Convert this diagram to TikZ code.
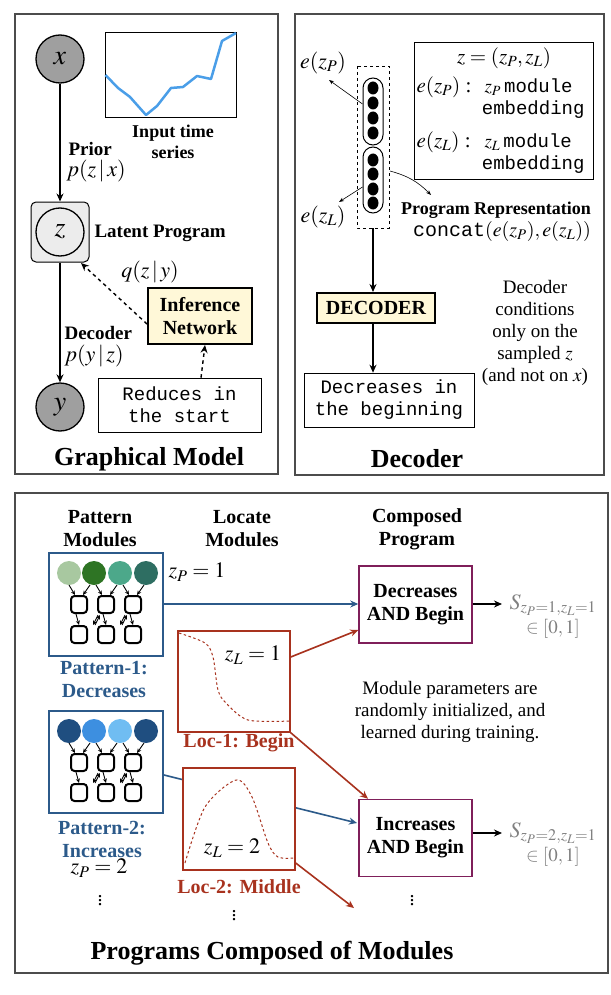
\documentclass[tikz,border=0pt]{standalone}
\usepackage{mathptmx}
\usepackage{fontspec}
\setmainfont{Liberation Serif}
\setmonofont{Liberation Mono}
\usetikzlibrary{arrows.meta,positioning}
\definecolor{pblue}{HTML}{2C5A8A}
\definecolor{lred}{HTML}{A8321E}
\definecolor{cpur}{HTML}{7F1F5A}
\definecolor{yel}{HTML}{FFF8D8}
\definecolor{tsblue}{HTML}{4A9EE8}
\definecolor{sgray}{HTML}{808080}
\definecolor{ga}{HTML}{A8C8A0}\definecolor{gb}{HTML}{2E7424}
\definecolor{gc}{HTML}{4CA88A}\definecolor{gd}{HTML}{2E6E62}
\definecolor{ba}{HTML}{1F4E80}\definecolor{bb}{HTML}{3D8FE0}
\definecolor{bc}{HTML}{70BDF2}
\newcommand\fs[1]{\fontsize{#1}{\dimexpr #1pt*115/100\relax}\selectfont}
\newcommand\modicon[5]{%
\begin{scope}[shift={(#1)}]
 \fill[#2] (20,20) circle (12); \fill[#3] (45,20) circle (12);
 \fill[#4] (71,20) circle (12); \fill[#5] (97,20) circle (12);
 \foreach \x in {30,57,84}{
  \draw[line width=2pt,rounded corners=3.5] (\x-8,43) rectangle (\x+8,60);
  \draw[line width=2pt,rounded corners=3.5] (\x-8,73) rectangle (\x+8,90);
  \draw[-{Stealth[length=4.5pt,width=4pt]},line width=0.9pt] (\x-10,32) -- (\x-4,42);
  \draw[-{Stealth[length=4.5pt,width=4pt]},line width=0.9pt] (\x+11,32) -- (\x+4,42);
  \draw[-{Stealth[length=4.5pt,width=4pt]},line width=0.9pt] (\x-3,61) -- (\x,72);
 }
 \foreach \x in {57,84}{
  \draw[-{Stealth[length=4.5pt,width=4pt]},line width=0.9pt] (\x-8,62) -- (\x-13,72);
  \draw[-{Stealth[length=4.5pt,width=4pt]},line width=0.9pt] (\x-11,72) -- (\x-6,62);
 }
\end{scope}}
\begin{document}
\begin{tikzpicture}[x=1pt,y=-1pt,
  panel/.style={draw=black!70,line width=1.6pt},
  arr/.style={-{Stealth[length=8pt,width=7pt]},line width=1.4pt},
  darr/.style={-{Stealth[length=8pt,width=7pt]},line width=1.4pt,dash pattern=on 3.5pt off 3.5pt},
  bl/.style={font=\bfseries\fs{19}},
  ttl/.style={font=\bfseries\fs{26}},
  rv/.style={circle,draw,line width=1.3pt,minimum size=48pt,inner sep=0pt,font=\fs{28}},
  txt/.style={font=\fs{19},align=center},
  mono/.style={font=\ttfamily\fs{19},align=center},
  blu/.style={-{Stealth[length=8pt,width=7pt]},line width=1.6pt,pblue},
  red/.style={-{Stealth[length=8pt,width=7pt]},line width=1.6pt,lred},
  cbox/.style={draw=cpur,line width=1.5pt,minimum width=113pt,minimum height=77pt,align=center,font=\bfseries\fs{20}},
  lbox/.style={draw=lred,line width=1.4pt,fill=white},
  pbox/.style={draw=pblue,line width=2pt},
  vd/.style={font=\fs{20},inner sep=0pt}]
\useasboundingbox (0,0) rectangle (610,995);
% ---------------- Graphical model
\draw[panel] (15,14) rectangle (278,474);
\node[rv,fill=gray!75] (x) at (60,59) {$x$};
\draw[line width=0.8pt] (105,32) rectangle (236,117);
\draw[tsblue,line width=2.5pt,line join=round] (105.5,75)--(118,88)--(130,97)--(146,115)--(157,106)--(171,88)--(183,87)--(197,76)--(211,79)--(222,41)--(236,33);
\node[align=center,font=\bfseries\fs{18}] (its) at (173,142) {Input time\\series};
\node[anchor=west,font=\bfseries\fs{19}] (prior) at (65,149) {Prior};
\node[anchor=west,font=\fs{22}] (pzx) at (63,171) {$p(z\,|\,x)$};
\node[draw,fill=gray!15,rounded corners=5pt,line width=1pt,minimum width=58pt,minimum height=60pt] (zb) at (60,232) {};
\node[rv] (z) at (60,232) {$z$};
\node[bl,anchor=west] (lp) at (91,233) {Latent Program};
\node[font=\fs{22}] (qzy) at (150,272) {$q(z\,|\,y)$};
\node[draw,fill=yel,line width=2pt,minimum width=104pt,minimum height=56pt,align=center,font=\bfseries\fs{20}] (inf) at (200,316) {Inference\\Network};
\node[bl,anchor=west] (dec) at (61,333) {Decoder};
\node[anchor=west,font=\fs{22}] (pyz) at (61,356) {$p(y\,|\,z)$};
\node[rv,fill=gray!75] (y) at (60,407) {$y$};
\node[draw,line width=0.6pt,minimum width=163pt,minimum height=54pt,mono] (red1) at (179.5,405) {Reduces in\\the start};
\node[ttl] (gm) at (149,459) {Graphical Model};
\draw[arr] (x) -- (zb);
\draw[arr] (zb) -- (y);
\coordinate (zq) at (81,263);
\draw[darr] ([yshift=-8pt]inf.west) -- (zq);
\draw[darr] (red1.north -| 201,0) -- (inf.south -| 205,0);
% ---------------- Decoder
\draw[panel] (295,14) rectangle (604,475);
\draw[dashed,line width=0.6pt] (357,66) rectangle (389,228);
\node[draw,rounded corners=10pt,line width=1pt,minimum width=20pt,minimum height=67pt] (c1) at (373,111.5) {};
\node[draw,rounded corners=10pt,line width=1pt,minimum width=20pt,minimum height=66pt] (c2) at (373,180) {};
\foreach \yy in {88,103,118,133,160,174,189,203} \fill (373,\yy) ellipse (5.5 and 6.5);
\node[font=\fs{22}] (ezp) at (323,63) {$e(z_P)$};
\node[font=\fs{22}] (ezl) at (323,217) {$e(z_L)$};
\draw[-{Stealth[length=5pt]},line width=0.6pt] (c1.west |- 0,104) -- (329,80);
\draw[-{Stealth[length=5pt]},line width=0.6pt] (c2.west |- 0,187) -- (339,202);
\draw[-{Stealth[length=5pt]},line width=0.6pt] (390,171) to[bend left=15] (431,195);
\draw[line width=0.6pt] (414,42) rectangle (593,179);
\node[font=\fs{21}] at (504,58) {$z=(z_P,z_L)$};
\node[anchor=west,font=\fs{21}] at (413,87) {$e(z_P)$ :};
\node[anchor=west,font=\fs{19}] at (481,87) {$\mathit{z_P}$\,\texttt{module}};
\node[anchor=east,font=\ttfamily\fs{19}] at (588,110) {embedding};
\node[anchor=west,font=\fs{21}] at (413,142) {$e(z_L)$ :};
\node[anchor=west,font=\fs{19}] at (481,142) {$\mathit{z_L}$\,\texttt{module}};
\node[anchor=east,font=\ttfamily\fs{19}] at (588,165) {embedding};
\node[font=\bfseries\fs{18}] (prr) at (496,210) {Program Representation};
\node[font=\fs{20}] (cat) at (502,231) {\texttt{concat}$(e(z_P),e(z_L))$};
\node[draw,fill=yel,line width=2pt,minimum width=118pt,minimum height=30pt,font=\bfseries\fs{20}] (decb) at (376,308) {DECODER};
\node[draw,line width=0.6pt,minimum width=170pt,minimum height=54pt,mono] (dib) at (389,400) {Decreases in\\the beginning};
\coordinate (dtop) at (373,228);
\draw[arr] (dtop) -- (decb.north -| dtop);
\draw[arr] (decb.south -| dtop) -- (dib.north -| dtop);
\node[txt] (cond) at (535,333) {Decoder\\conditions\\only on the\\sampled $z$\\(and not on $x$)};
\node[ttl] (dt) at (417,459) {Decoder};
% ---------------- Bottom
\draw[panel] (15,493) rectangle (608,973);
\node[align=center,font=\bfseries\fs{20}] at (100,529) {Pattern\\Modules};
\node[align=center,font=\bfseries\fs{20}] at (242,529) {Locate\\Modules};
\node[align=center,font=\bfseries\fs{20}] at (417,529) {Composed\\Program};
\node[pbox,minimum width=114pt,minimum height=103pt] (p1) at (106,604.5) {};
\modicon{49,553}{ga}{gb}{gc}{gd}
\node[pbox,minimum width=114pt,minimum height=102pt] (p2) at (106,762) {};
\modicon{49,711}{ba}{bb}{bc}{ba}
\node[font=\fs{22}] at (197,572) {$z_P=1$};
\node[font=\bfseries\fs{20},text=pblue,align=center] at (104,679) {Pattern-1:\\Decreases};
\node[font=\bfseries\fs{20},text=pblue,align=center] at (102,839) {Pattern-2:\\Increases};
\node[font=\fs{22}] at (99,868) {$z_P=2$};
\node[cbox] (cp1) at (415.5,604.5) {Decreases\\AND Begin};
\node[cbox] (cp2) at (415.5,838) {Increases\\AND Begin};
\coordinate (b2) at (357,823);
\draw[blu] (p1.east |- 0,604) -- (cp1.west |- 0,604);
\draw[blu] (p2.east |- 0,775) -- (b2);
\node[lbox,minimum width=112pt,minimum height=101pt] (l1) at (234,681.5) {};
\node[lbox,minimum width=112pt,minimum height=102pt] (l2) at (239,819) {};
\draw[lred,line width=1pt,dash pattern=on 2.5pt off 2.5pt] plot[smooth] coordinates {(179,633)(205,643)(213,657)(218,690)(226,703)(248,720)(290,721)};
\draw[lred,line width=1pt,dash pattern=on 2.5pt off 2.5pt] plot[smooth] coordinates {(185,863)(205,807)(236,780)(252,797)(268,843)(278,857)(295,858)};
\node[font=\fs{22}] at (253,655) {$z_L=1$};
\node[font=\fs{22}] at (232,848) {$z_L=2$};
\node[font=\bfseries\fs{20},text=lred] at (239,743) {Loc-1: Begin};
\node[font=\bfseries\fs{20},text=lred] at (239,887) {Loc-2: Middle};
\coordinate (e3) at (354,908);
\draw[red] (l1.east |- 0,657) -- (cp1.west |- 0,630);
\draw[red] (l1.south east) -- (cp2.north -| 368,0);
\draw[red] (l2.east |- 0,863) -- (e3);
\coordinate (s1) at (502,604); \coordinate (s2) at (502,833);
\draw[arr,line width=1.6pt] (cp1.east |- s1) -- (s1);
\draw[arr,line width=1.6pt] (cp2.east |- s2) -- (s2);
\node[text=sgray,font=\fs{22}] at (553,605) {$S_{z_P=1,z_L=1}$};
\node[text=sgray,font=\fs{19}] at (553,629) {$\in[0,1]$};
\node[text=sgray,font=\fs{22}] at (553,833) {$S_{z_P=2,z_L=1}$};
\node[text=sgray,font=\fs{19}] at (553,857) {$\in[0,1]$};
\node[txt,font=\fs{19}] at (450,712) {Module parameters are\\randomly initialized, and\\learned during training.};
\node[vd] at (100,898) {$\vdots$};
\node[vd] at (234,913) {$\vdots$};
\node[vd] at (412,898) {$\vdots$};
\node[ttl] at (272,953) {Programs Composed of Modules};
\end{tikzpicture}
\end{document}
